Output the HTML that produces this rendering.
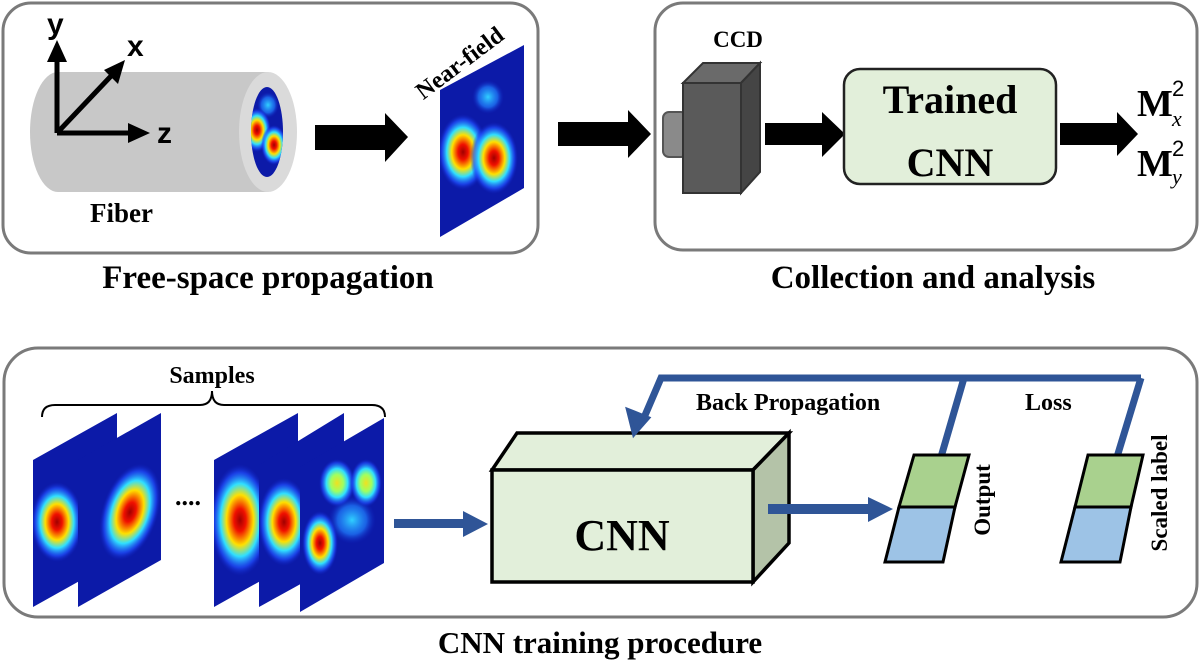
<!DOCTYPE html>
<html><head><meta charset="utf-8"><style>
html,body{margin:0;padding:0;background:#fff;}
svg{display:block;}
text{font-family:"Liberation Serif",serif;font-weight:bold;fill:#000;}
</style></head><body>
<svg width="1200" height="664" viewBox="0 0 1200 664" xmlns="http://www.w3.org/2000/svg">
<defs>
<radialGradient id="hot">
<stop offset="0" stop-color="#a00000"/>
<stop offset="0.2" stop-color="#f01000"/>
<stop offset="0.45" stop-color="#ffe000"/>
<stop offset="0.65" stop-color="#30e0ff"/>
<stop offset="0.85" stop-color="#2050ff" stop-opacity="0.7"/>
<stop offset="1" stop-color="#1020c0" stop-opacity="0"/>
</radialGradient>
<radialGradient id="yel">
<stop offset="0" stop-color="#f0e020"/>
<stop offset="0.35" stop-color="#a0ff60"/>
<stop offset="0.6" stop-color="#30e0ff"/>
<stop offset="0.85" stop-color="#2050ff" stop-opacity="0.6"/>
<stop offset="1" stop-color="#1020c0" stop-opacity="0"/>
</radialGradient>
<radialGradient id="cy">
<stop offset="0" stop-color="#30d0ff"/>
<stop offset="0.6" stop-color="#2080ff" stop-opacity="0.7"/>
<stop offset="1" stop-color="#1020c0" stop-opacity="0"/>
</radialGradient>
</defs>

<!-- Top-left box -->
<rect x="3" y="3" width="535" height="250" rx="28" fill="#fff" stroke="#7a7a7a" stroke-width="3"/>
<path d="M268 72 L58 72 A28 60 0 0 0 58 192 L268 192 Z" fill="#c8c8c8"/>
<ellipse cx="268" cy="132" rx="29" ry="60" fill="#dadada"/>
<clipPath id="fc"><ellipse cx="267" cy="132" rx="16" ry="45"/></clipPath>
<g clip-path="url(#fc)">
<rect x="240" y="80" width="60" height="110" fill="#0c1aa8"/>
<ellipse cx="268" cy="105" rx="11" ry="13" fill="url(#cy)"/>
<ellipse cx="257" cy="130" rx="14" ry="22" fill="url(#hot)"/>
<ellipse cx="274" cy="145" rx="13" ry="20" fill="url(#hot)"/>
</g>
<g stroke="#000" stroke-width="5" fill="none">
<line x1="57" y1="133" x2="57" y2="58"/>
<line x1="57" y1="133" x2="133" y2="133"/>
<line x1="57" y1="133" x2="112" y2="75"/>
</g>
<polygon points="57,40 47,62 67,62" fill="#000"/>
<polygon points="150,133 128,123 128,143" fill="#000"/>
<polygon points="125,60 104,70 118,84" fill="#000"/>
<text x="47" y="34" style="font-family:'Liberation Sans',sans-serif;font-size:30px">y</text>
<text x="127" y="56" style="font-family:'Liberation Sans',sans-serif;font-size:30px">x</text>
<text x="157" y="143" style="font-family:'Liberation Sans',sans-serif;font-size:30px">z</text>
<text x="90" y="222" font-size="27">Fiber</text>
<polygon points="315,125 385,125 385,113 408,137 385,162 385,150 315,150" fill="#000"/>
<clipPath id="nf"><polygon points="440,90 524,45 524,188 440,237"/></clipPath>
<g clip-path="url(#nf)">
<rect x="430" y="40" width="100" height="200" fill="#0c1aa8"/>
<ellipse cx="488" cy="97" rx="16" ry="17" fill="url(#cy)"/>
<ellipse cx="463" cy="152" rx="25" ry="38" fill="url(#hot)"/>
<ellipse cx="494" cy="158" rx="24" ry="36" fill="url(#hot)"/>
</g>
<text x="462" y="70" font-size="24" text-anchor="middle" transform="rotate(-37 462 66)">Near-field</text>
<text x="268" y="288" font-size="33" text-anchor="middle">Free-space propagation</text>

<polygon points="558,122 628,122 628,110 651,134 628,158 628,146 558,146" fill="#000"/>

<!-- Top-right box -->
<rect x="655" y="3" width="542" height="247" rx="28" fill="#fff" stroke="#7a7a7a" stroke-width="3"/>
<text x="738" y="47" font-size="23" text-anchor="middle">CCD</text>
<rect x="663" y="112" width="24" height="45" rx="6" fill="#8a8a8a" stroke="#555" stroke-width="2"/>
<polygon points="683,83 703,63 760,63 741,83" fill="#6a6a6a" stroke="#333" stroke-width="2"/>
<polygon points="741,83 760,63 760,172 741,193" fill="#454545" stroke="#333" stroke-width="2"/>
<rect x="683" y="83" width="58" height="110" fill="#5a5a5a" stroke="#333" stroke-width="2"/>
<polygon points="765,123 822,123 822,112 845,134 822,157 822,145 765,145" fill="#000"/>
<rect x="844" y="69" width="212" height="115" rx="16" fill="#e2efda" stroke="#222" stroke-width="2.5"/>
<text x="950" y="113" font-size="40" text-anchor="middle">Trained</text>
<text x="950" y="176" font-size="40" text-anchor="middle">CNN</text>
<polygon points="1060,123 1117,123 1117,112 1138,134 1117,156 1117,145 1060,145" fill="#000"/>
<text x="1137" y="116" font-size="38">M</text>
<text x="1172" y="96" font-size="22" style="font-family:'Liberation Sans',sans-serif;font-weight:normal">2</text>
<text x="1172" y="126" font-size="22" style="font-style:italic;font-weight:normal">x</text>
<text x="1137" y="176" font-size="38">M</text>
<text x="1172" y="156" font-size="22" style="font-family:'Liberation Sans',sans-serif;font-weight:normal">2</text>
<text x="1172" y="184" font-size="22" style="font-style:italic;font-weight:normal">y</text>
<text x="933" y="288" font-size="33" text-anchor="middle">Collection and analysis</text>

<!-- Bottom box -->
<rect x="4" y="348" width="1193" height="269" rx="34" fill="#fff" stroke="#7a7a7a" stroke-width="3"/>
<text x="212" y="383" font-size="24" text-anchor="middle">Samples</text>
<path d="M42 417 Q42 405 55 405 L200 405 Q212 405 212 391 Q212 405 224 405 L372 405 Q385 405 385 417" fill="none" stroke="#000" stroke-width="2"/>
<clipPath id="f1"><polygon points="33,460 117,413 117,560 33,607"/></clipPath>
<g clip-path="url(#f1)"><rect x="30" y="410" width="90" height="200" fill="#0c1aa8"/>
<ellipse cx="57" cy="522" rx="26" ry="40" fill="url(#hot)"/></g>
<clipPath id="f2"><polygon points="78,460 161,413 161,560 78,607"/></clipPath>
<g clip-path="url(#f2)"><rect x="75" y="410" width="90" height="200" fill="#0c1aa8"/>
<ellipse cx="130" cy="512" rx="28" ry="50" fill="url(#hot)" transform="rotate(18 130 512)"/></g>
<text x="188" y="505" font-size="26" text-anchor="middle">....</text>
<clipPath id="f3"><polygon points="214,460 298,413 298,560 214,607"/></clipPath>
<g clip-path="url(#f3)"><rect x="210" y="410" width="90" height="200" fill="#0c1aa8"/>
<ellipse cx="240" cy="520" rx="30" ry="56" fill="url(#hot)"/></g>
<clipPath id="f4"><polygon points="259,465 344,413 344,560 259,607"/></clipPath>
<g clip-path="url(#f4)"><rect x="255" y="410" width="95" height="200" fill="#0c1aa8"/>
<ellipse cx="284" cy="522" rx="26" ry="44" fill="url(#hot)"/></g>
<clipPath id="f5"><polygon points="300,467 384,418 384,563 300,612"/></clipPath>
<g clip-path="url(#f5)"><rect x="296" y="410" width="95" height="205" fill="#0c1aa8"/>
<ellipse cx="352" cy="520" rx="24" ry="24" fill="url(#cy)"/>
<ellipse cx="337" cy="483" rx="18" ry="24" fill="url(#yel)"/>
<ellipse cx="366" cy="483" rx="16" ry="24" fill="url(#yel)"/>
<ellipse cx="320" cy="543" rx="18" ry="32" fill="url(#hot)"/></g>
<polygon points="394,519 463,519 463,511 488,524 463,537 463,528 394,528" fill="#2f5597"/>
<polygon points="492,470 517,433 789,433 753,470" fill="#e2efda" stroke="#000" stroke-width="3.5"/>
<polygon points="753,470 789,433 789,543 753,582" fill="#b4c3a8" stroke="#000" stroke-width="3.5"/>
<rect x="492" y="470" width="261" height="112" fill="#e2efda" stroke="#000" stroke-width="3.5"/>
<text x="622" y="550" font-size="44" text-anchor="middle">CNN</text>
<polygon points="768,504 868,504 868,497 893,509 868,522 868,514 768,514" fill="#2f5597"/>
<g stroke="#2f5597" stroke-width="7" fill="none">
<polyline points="1141,378 661,378 643,420"/>
<line x1="964" y1="378" x2="941" y2="457"/>
<line x1="1141" y1="378" x2="1117" y2="457"/>
</g>
<polygon points="634,434 628,410 648,418" fill="#2f5597" stroke="#2f5597" stroke-width="4"/>
<text x="696" y="410" font-size="24">Back Propagation</text>
<text x="1025" y="410" font-size="24">Loss</text>
<polygon points="914,455 969,455 955,507 899,507" fill="#a9d18e" stroke="#000" stroke-width="3"/>
<polygon points="899,507 955,507 943,562 885,562" fill="#9dc3e6" stroke="#000" stroke-width="3"/>
<text font-size="23" text-anchor="middle" transform="translate(990 500) rotate(-90)">Output</text>
<polygon points="1088,455 1143,455 1131,507 1075,507" fill="#a9d18e" stroke="#000" stroke-width="3"/>
<polygon points="1075,507 1131,507 1120,562 1061,562" fill="#9dc3e6" stroke="#000" stroke-width="3"/>
<text font-size="23" text-anchor="middle" transform="translate(1167 493) rotate(-90)">Scaled label</text>
<text x="600" y="653" font-size="31" text-anchor="middle">CNN training procedure</text>
</svg>
</body></html>
